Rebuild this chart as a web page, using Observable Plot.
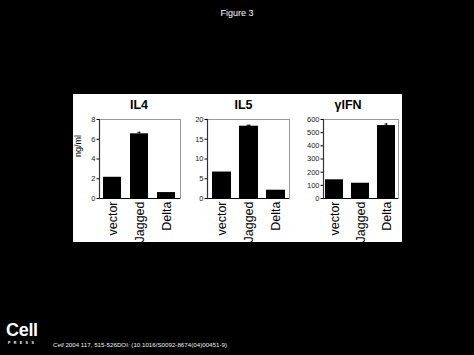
<!DOCTYPE html>
<html>
<head>
<meta charset="utf-8">
<script src="https://cdn.jsdelivr.net/npm/d3@7"></script>
<script src="https://cdn.jsdelivr.net/npm/@observablehq/plot@0.6"></script>
<style>
  html, body { margin: 0; padding: 0; background: #000; }
  #root { position: relative; width: 474px; height: 355px; background: #000; overflow: hidden; font-family: "Liberation Sans", Arial, sans-serif; }
  .abs { position: absolute; }
  #panel { left: 73px; top: 94px; width: 329px; height: 148px; background: #fff; }
  #fig { left: 0; width: 474px; top: 8px; text-align: center; color: #fff; font-size: 9px; }
  #cite { left: 53px; top: 341px; color: #eee; font-size: 6.2px; white-space: nowrap; }
  #logo { left: 6px; top: 320px; color: #fff; font-weight: bold; font-size: 18px; letter-spacing: -0.3px; }
  #press { left: 8px; top: 341px; color: #fff; font-size: 3.6px; letter-spacing: 3.4px; font-weight: bold; }
  svg { position: absolute; background: transparent; }
</style>
</head>
<body>
<div id="root">
  <div id="fig" class="abs">Figure 3</div>
  <div id="panel" class="abs"></div>
  <div id="logo" class="abs">Cell</div>
  <div id="press" class="abs">PRESS</div>
  <div id="cite" class="abs"><i>Cell</i> 2004 117, 515-526DOI: (10.1016/S0092-8674(04)00451-9)</div>
</div>
<script>
const categories = ["vector", "Jagged", "Delta"];
const il4Values = [2.15, 6.55, 0.6];
const il4Errors = [0, 0.15, 0];
const il5Values = [6.7, 18.3, 2.1];
const il5Errors = [0, 0.25, 0];
const ifnValues = [142, 116, 554];
const ifnErrors = [0, 0, 12];
const il4Ticks = [0, 2, 4, 6, 8];
const il5Ticks = [0, 5, 10, 15, 20];
const ifnTicks = [0, 100, 200, 300, 400, 500, 600];

const panels = [
  {title: "IL4", values: il4Values, errors: il4Errors, ticks: il4Ticks, max: 8, unit: "ng/ml",
   left: 73, width: 115, mL: 26, mR: 8, titleDx: -1, pi: 0.32, po: 0.15},
  {title: "IL5", values: il5Values, errors: il5Errors, ticks: il5Ticks, max: 20, unit: null,
   left: 188, width: 113, mL: 19, mR: 12, titleDx: -5, pi: 0.3, po: 0.15},
  {title: "\u03b3IFN", values: ifnValues, errors: ifnErrors, ticks: ifnTicks, max: 600, unit: null,
   left: 301, width: 101, mL: 22, mR: 4, titleDx: -13, pi: 0.3, po: 0.06}
];

const root = document.getElementById("root");
for (const p of panels) {
  const data = categories.map((c, i) => ({cat: c, v: p.values[i], e: p.errors[i]}));
  const errData = data.filter(d => d.e > 0);
  const marks = [
    Plot.frame({stroke: "#999"}),
    Plot.barY(data, {x: "cat", y: "v", fill: "#000"}),
    Plot.ruleX(errData, {x: "cat", y1: "v", y2: d => d.v + d.e, stroke: "#000", strokeWidth: 1}),
    Plot.tickY(errData, {x: "cat", y: d => d.v + d.e, stroke: "#000", insetLeft: 7.5, insetRight: 7.5}),
    Plot.ruleY([0], {stroke: "#000", strokeWidth: 1.2}),
    Plot.frame({anchor: "left", stroke: "#333", strokeWidth: 1.2}),
    Plot.axisY({ticks: p.ticks, tickSize: 2.5, tickPadding: 1.5, fontSize: 7.5, label: null, fill: "#222"}),
    Plot.axisX({tickRotate: -90, tickSize: 0, tickPadding: 3, fontSize: 12.5, label: null, fill: "#000"}),
    Plot.text([p.title], {frameAnchor: "top", dy: -15, dx: p.titleDx, fontSize: 12.5, fontWeight: "bold", fill: "#000", lineAnchor: "middle"})
  ];
  if (p.unit) {
    marks.push(Plot.text([p.unit], {frameAnchor: "left", dx: -21, dy: -2, rotate: -90, fontSize: 9, fill: "#000"}));
  }
  const svg = Plot.plot({
    width: p.width,
    height: 148,
    marginLeft: p.mL,
    marginRight: p.mR,
    marginTop: 25,
    marginBottom: 44,
    style: {background: "transparent", color: "#000", fontFamily: "'Liberation Sans', Arial, sans-serif", overflow: "visible"},
    x: {domain: categories, paddingInner: p.pi, paddingOuter: p.po},
    y: {domain: [0, p.max]},
    marks
  });
  svg.style.left = p.left + "px";
  svg.style.top = "94px";
  root.appendChild(svg);
}
</script>
</body>
</html>
